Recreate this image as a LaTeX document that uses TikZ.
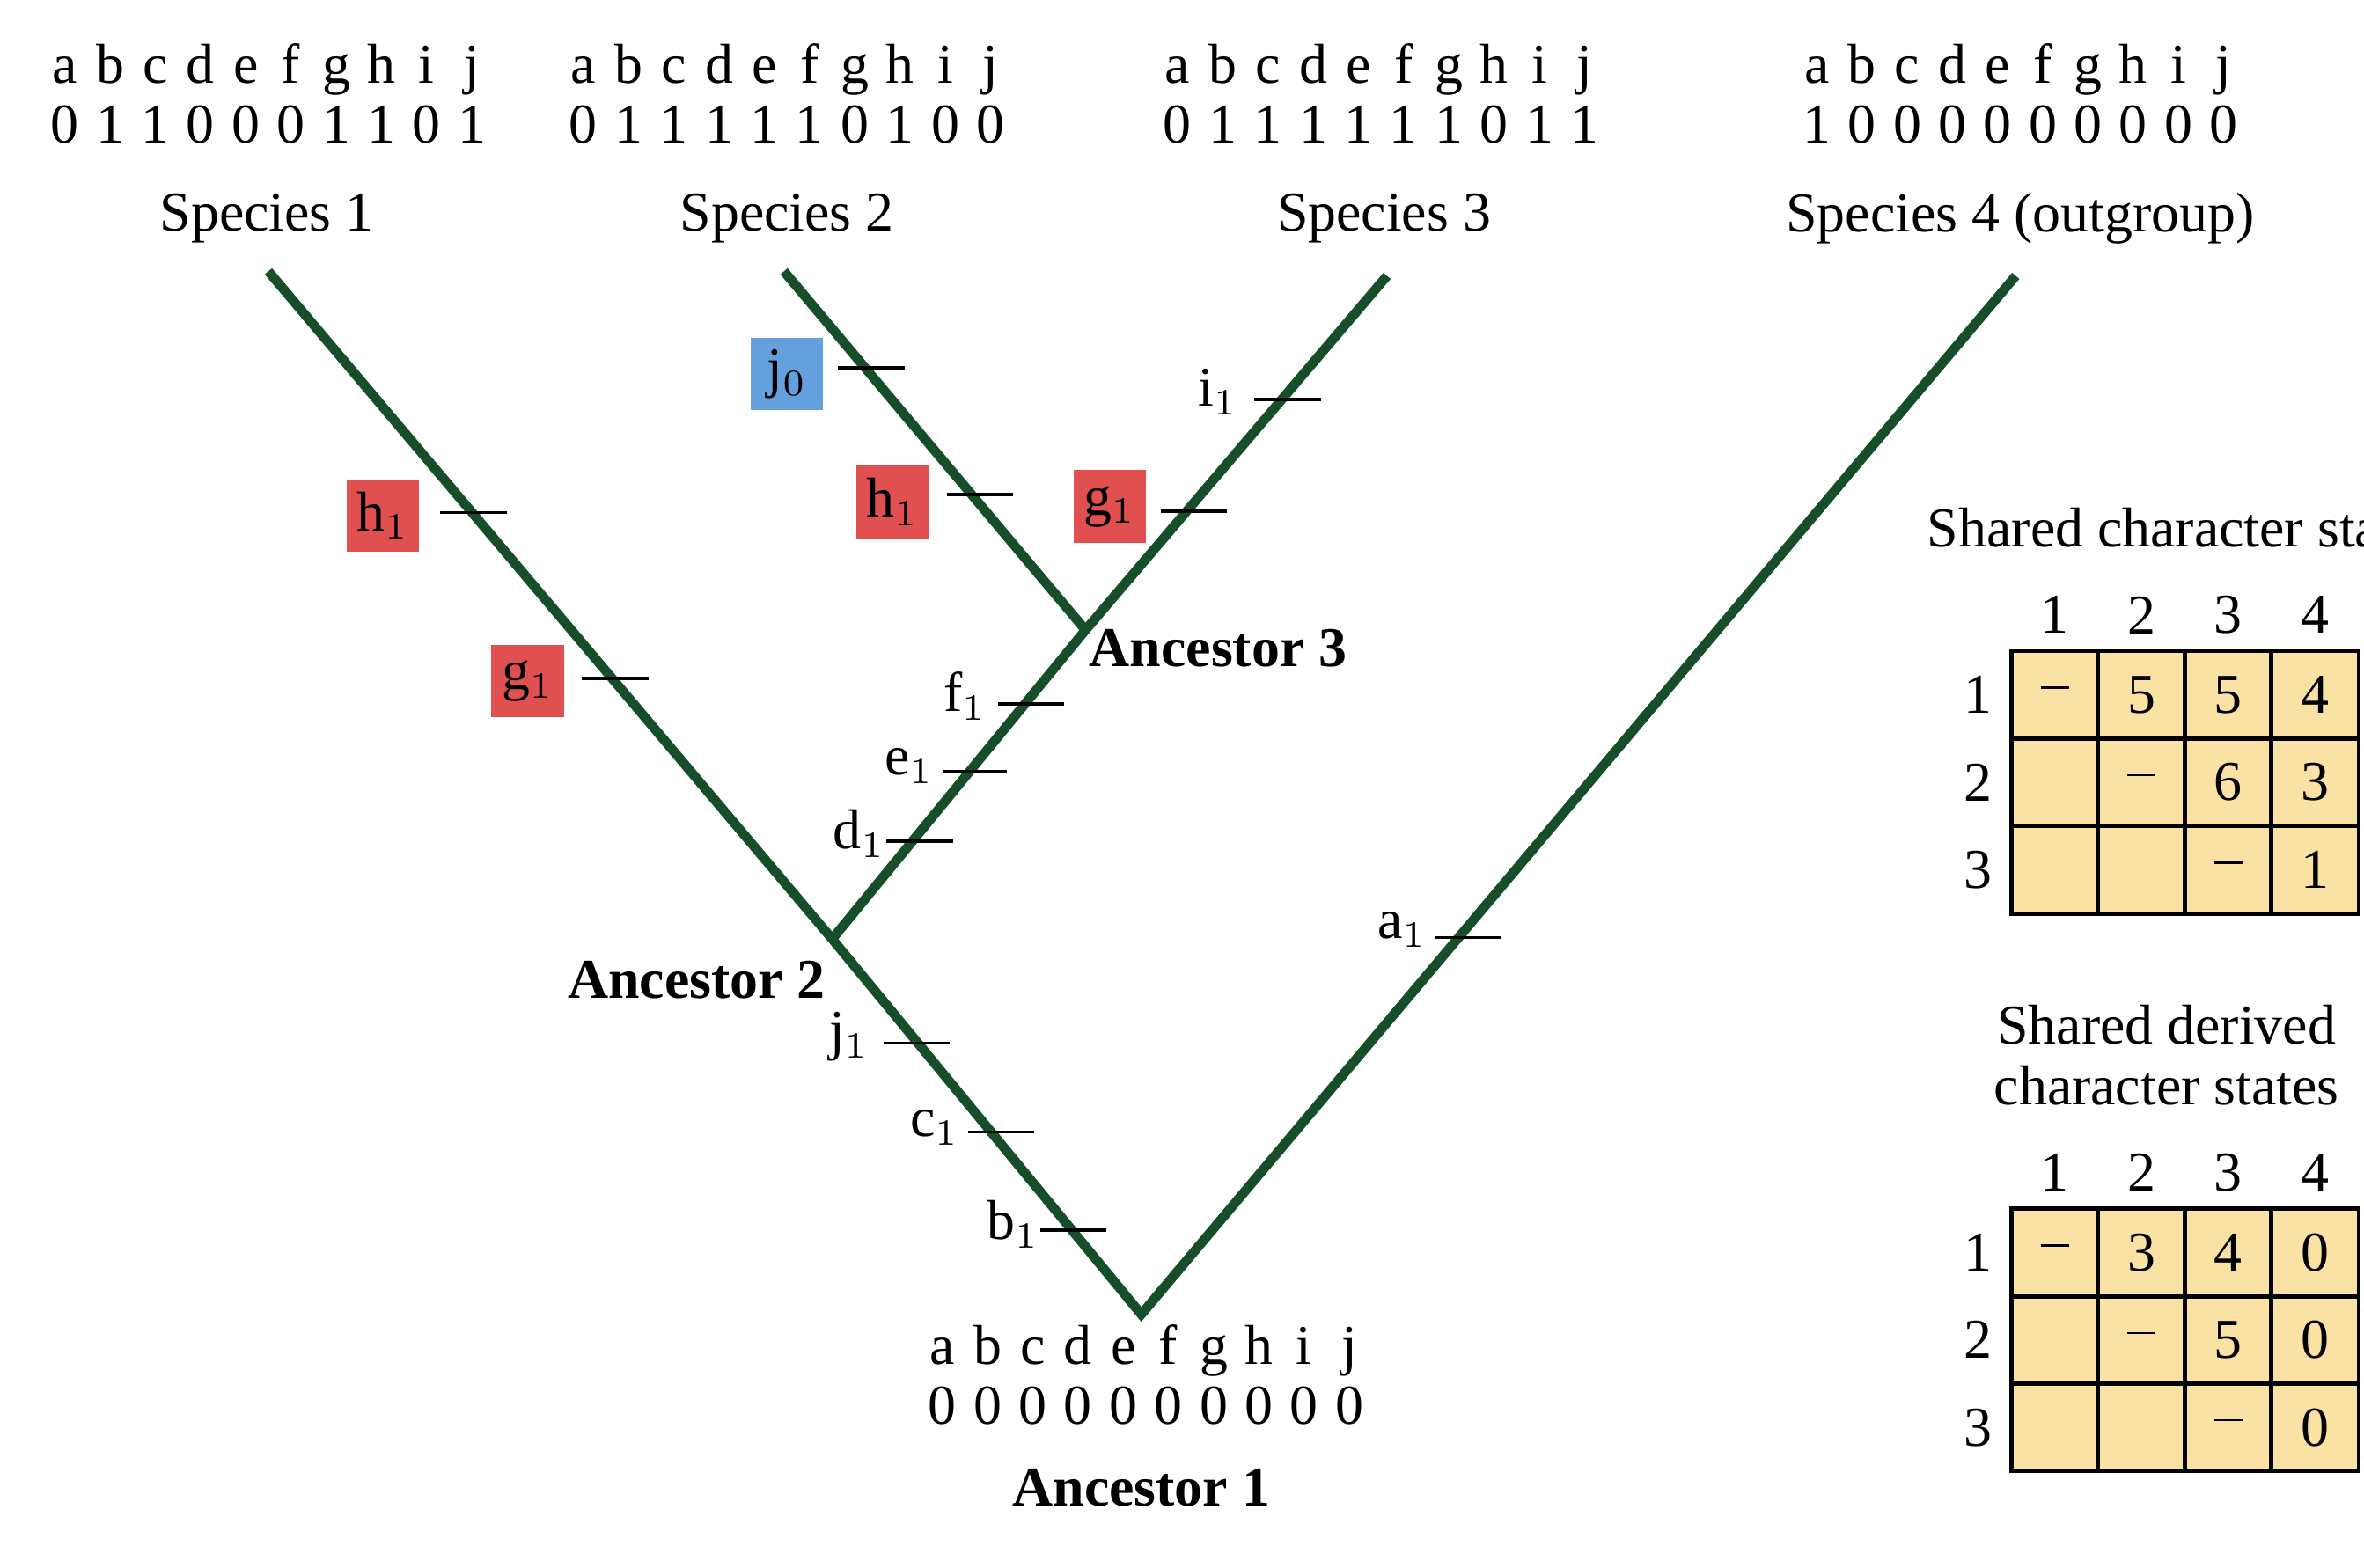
\documentclass[tikz,border=0pt]{standalone}
\usepackage{fontspec}
\setmainfont{Liberation Serif}
\begin{document}
\begin{tikzpicture}[x=0.01cm,y=-0.01cm,font=\fontsize{10.6}{13}\selectfont]
\definecolor{br}{RGB}{22,78,42}
\definecolor{rb}{RGB}{225,80,80}
\definecolor{bb}{RGB}{100,160,220}
\definecolor{cy}{RGB}{250,226,165}
\tikzset{branch/.style={br,line width=1.8pt,line cap=butt},
tick/.style={black,line width=0.6pt},
lbl/.style={inner sep=0pt,anchor=base},
rbox/.style={fill=rb,minimum width=0.48cm,minimum height=0.48cm,inner sep=0pt},
bbox/.style={fill=bb,minimum width=0.48cm,minimum height=0.48cm,inner sep=0pt},
anc/.style={font=\fontsize{10.6}{13}\selectfont\bfseries},
cell/.style={draw=black,fill=cy,line width=0.8pt,minimum width=0.58cm,minimum height=0.58cm,inner sep=0pt}}
\newcommand{\dsh}{\rule[0.25em]{0.5em}{0.4pt}}
\useasboundingbox (0,0) rectangle (1568,1040);
\clip (0,0) rectangle (1568,1040);
% tree
\coordinate (s1) at (178,180); \coordinate (s2) at (520,180);
\coordinate (s3) at (920,183); \coordinate (s4) at (1337,183);
\coordinate (A1) at (757,872); \coordinate (A2) at (552,623); \coordinate (A3) at (720,418);
\draw[branch] (s1) -- (A2) -- (A1) -- (s4);
\draw[branch] (A2) -- (A3) -- (s3);
\draw[branch] (A3) -- (s2);
% ticks
\foreach \n/\xa/\xb/\yy in {t1/556/600/244,t2/628/672/328,t3/832/876/265,t4/770/814/339,t5/292/336/340,t6/386/430/450,t7/662/706/467,t8/626/668/512,t9/588/632/558,t10/952/996/622,t11/586/630/692,t12/642/686/751,t13/690/734/816}
 {\coordinate (\n a) at (\xa,\yy); \coordinate (\n b) at (\xb,\yy); \draw[tick] (\n a) -- (\n b);}
\node[bbox] (bj) at (522,248) {j$_0$};
\node[rbox] (bh2) at (592,333) {h$_1$};
\node[rbox] (bg3) at (736,336) {g$_1$};
\node[rbox] (bh1) at (254,342) {h$_1$};
\node[rbox] (bg1) at (350,452) {g$_1$};
\node (li) at (808,260) {i$_1$};
\node (lf) at (640,462) {f$_1$};
\node (le) at (603,508) {e$_1$};
\node (ld) at (570,553) {d$_1$};
\node (la) at (930,617) {a$_1$};
\node (lj) at (563,688) {j$_1$};
\node (lc) at (620,748) {c$_1$};
\node (lb) at (672,812) {b$_1$};
\node[anc] (n3) at (808,430) {Ancestor 3};
\node[anc] (n2) at (462,650) {Ancestor 2};
\node[anc] (n1) at (757,987) {Ancestor 1};
% species
\node (sp1) at (177,145) {Species 1};
\node (sp2) at (522,145) {Species 2};
\node (sp3) at (918,145) {Species 3};
\node (sp4) at (1340,145) {Species 4 (outgroup)};
% character strings
\def\letters{a,b,c,d,e,f,g,h,i,j}
\foreach \cx/\cy/\digits in {178/55/{0,1,1,0,0,0,1,1,0,1},522/55/{0,1,1,1,1,1,0,1,0,0},916/55/{0,1,1,1,1,1,1,0,1,1},1340/55/{1,0,0,0,0,0,0,0,0,0},760/905/{0,0,0,0,0,0,0,0,0,0}}{
 \foreach \l [count=\k from 0] in \letters {\node[lbl] at ({\cx+30*(\k-4.5)},\cy) {\l};}
 \foreach \d [count=\k from 0] in \digits {\node[lbl] at ({\cx+30*(\k-4.5)},\cy+40) {\d};}
}
% tables
\node[anchor=west] (t1) at (1266,350) {Shared character states};
\node (t2a) at (1437,680) {Shared derived};
\node (t2b) at (1437,720) {character states};
\foreach \ty/\vals in {461/{{\dsh,5,5,4},{,\dsh,6,3},{,,\dsh,1}},831/{{\dsh,3,4,0},{,\dsh,5,0},{,,\dsh,0}}}{
 \foreach \h [count=\c from 0] in {1,2,3,4} {\node at ({1363+57.5*\c},\ty-53) {\h};}
 \foreach \row [count=\r from 0] in \vals {
  \node at (1312,{\ty+58*\r}) {\the\numexpr\r+1\relax};
  \foreach \v [count=\c from 0] in \row {\node[cell] at ({1363+57.5*\c},{\ty+58*\r}) {\v};}
 }
}
\end{tikzpicture}
\end{document}
